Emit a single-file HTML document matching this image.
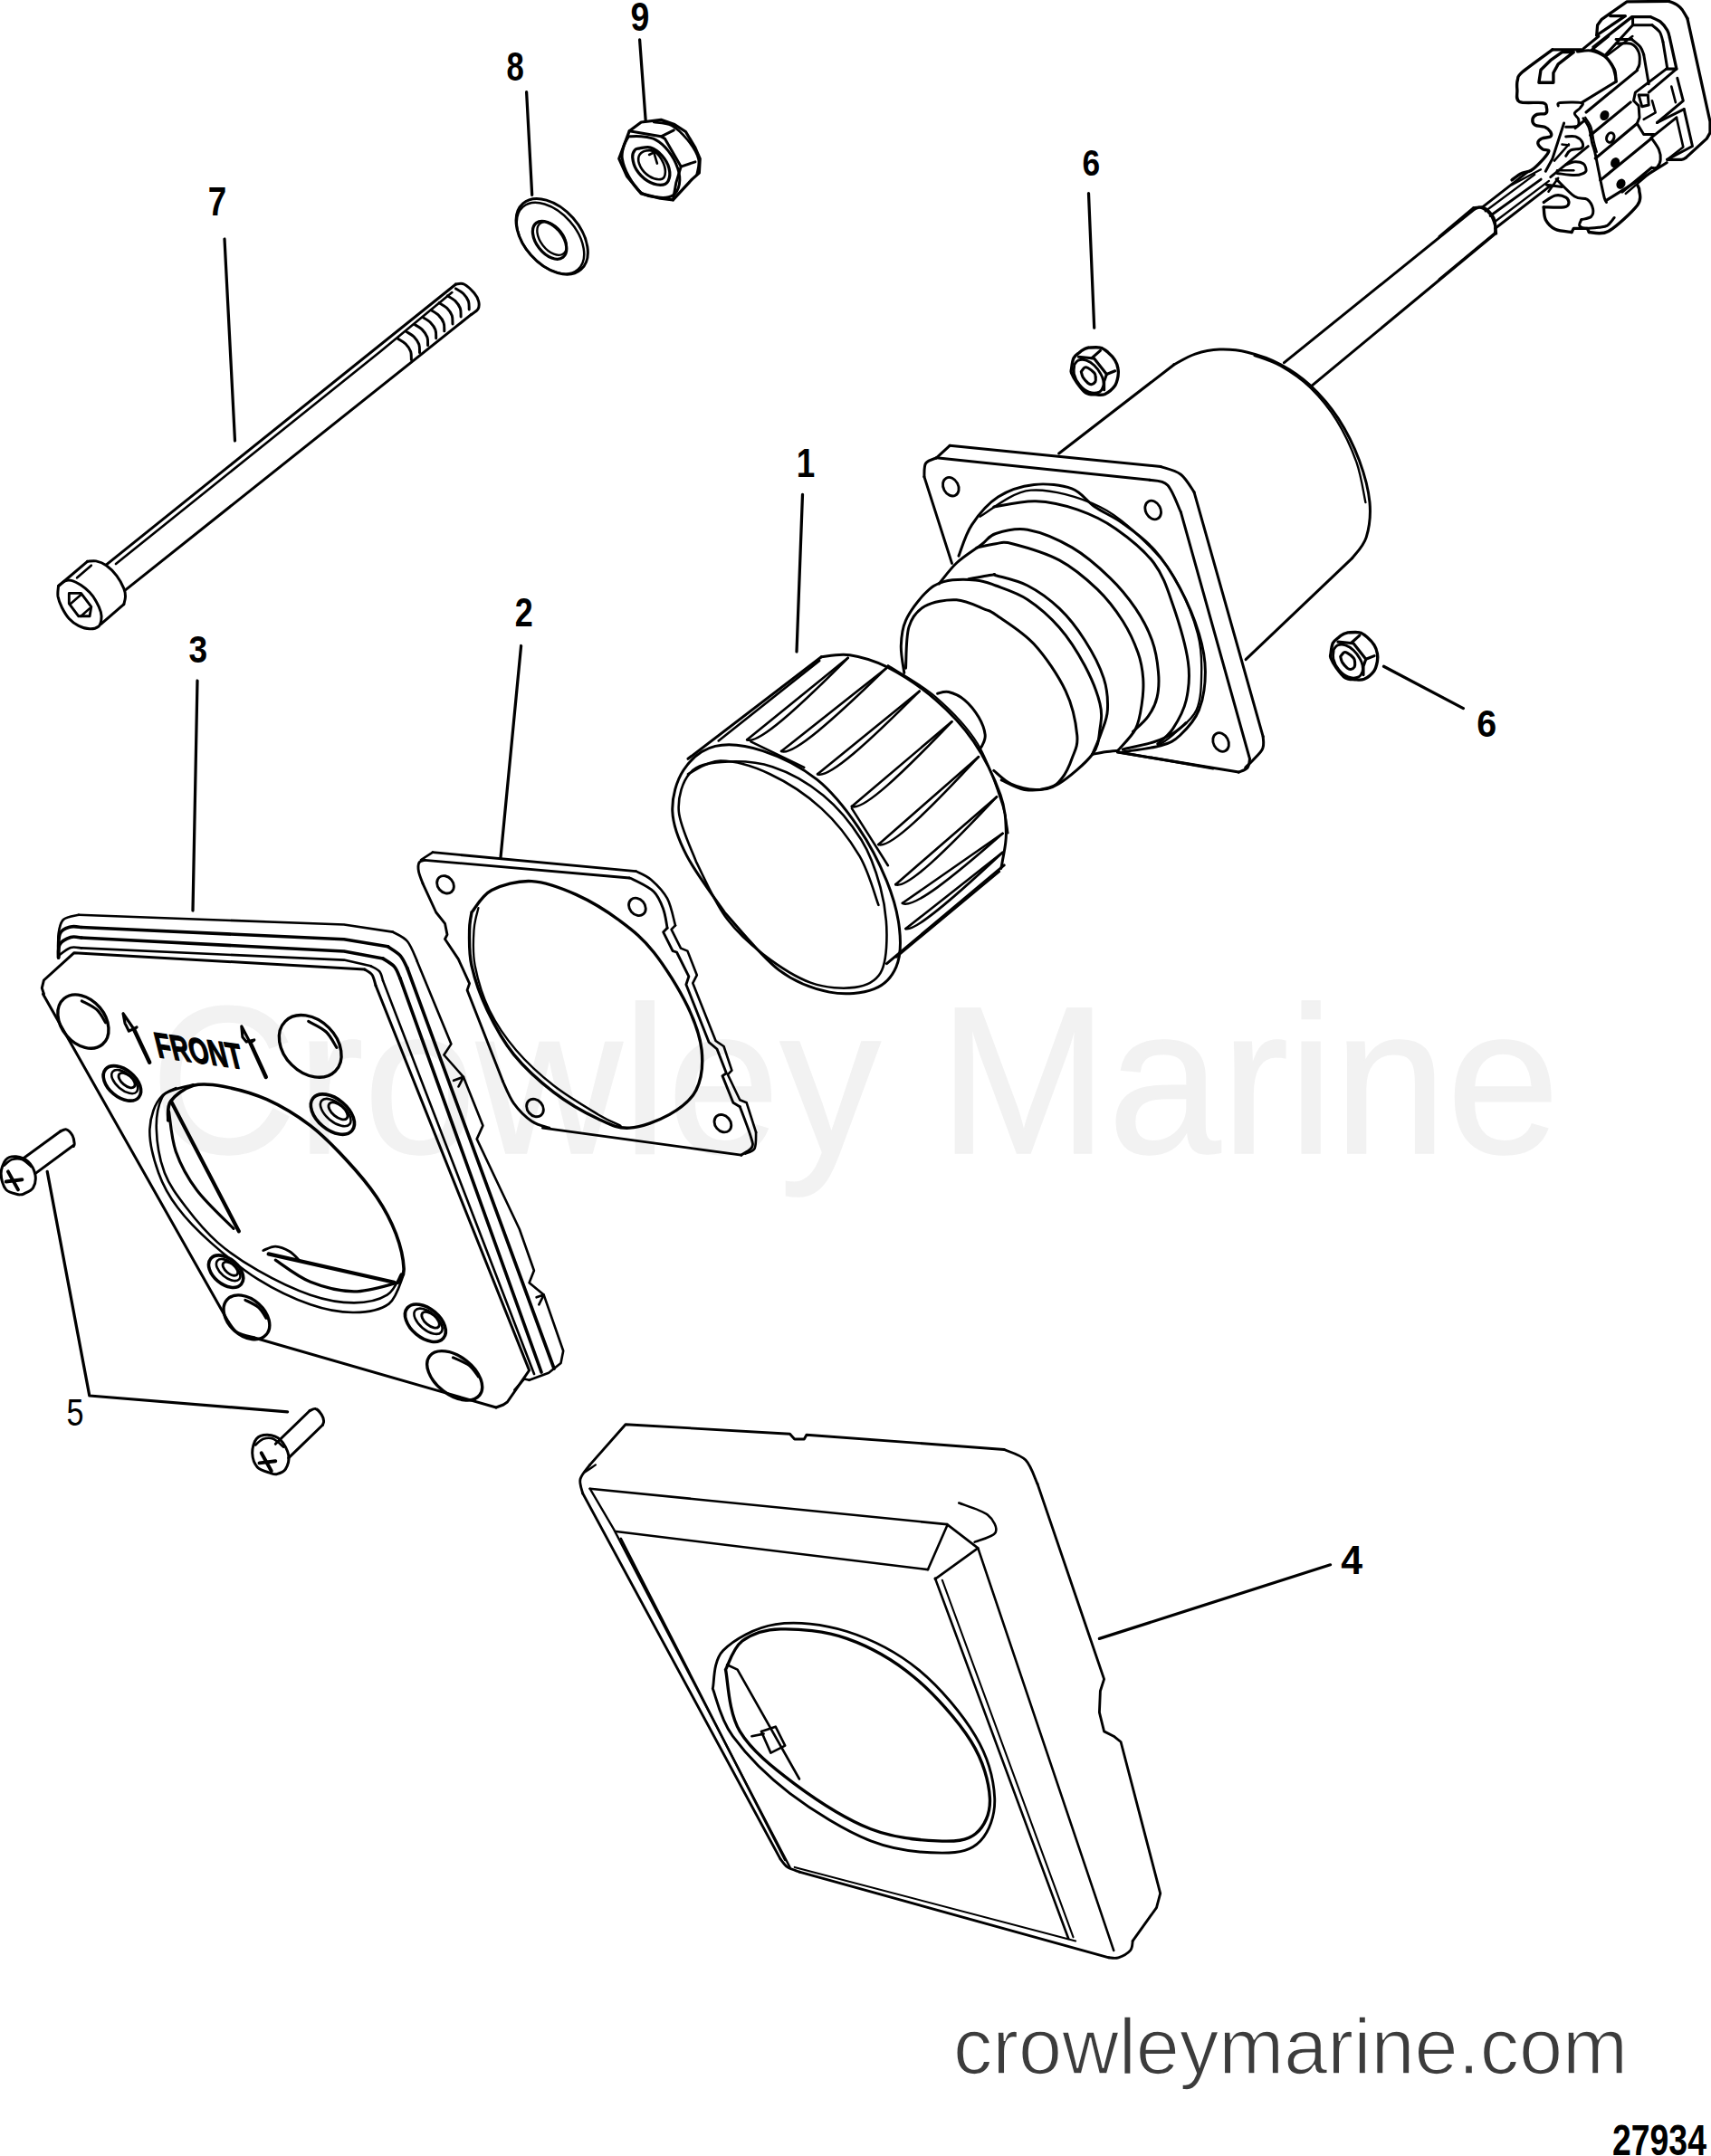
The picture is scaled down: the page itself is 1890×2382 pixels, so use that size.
<!DOCTYPE html>
<html><head><meta charset="utf-8"><style>
html,body{margin:0;padding:0;background:#fff;}
svg{display:block;}
text{font-family:"Liberation Sans",sans-serif;}
</style></head><body>
<svg width="1890" height="2382" viewBox="0 0 1890 2382">
<rect width="1890" height="2382" fill="#fff"/>
<text transform="translate(166.1 1273.6) scale(0.963 1)" font-size="232" fill="#f2f2f2" stroke="#f2f2f2" stroke-width="1.5" font-family="Liberation Sans">Crowley</text><text id="wm2" transform="translate(1037 1273.6) scale(0.967 1)" font-size="232" fill="#f2f2f2" stroke="#f2f2f2" stroke-width="1.5" font-family="Liberation Sans">Marine</text>
<g stroke="#000" fill="none" stroke-linejoin="round" stroke-linecap="round">
<text x="0" y="0" transform="translate(707.0 34.2) scale(0.851 1)" text-anchor="middle" font-size="44.1" font-weight="bold" fill="#000" stroke="none">9</text>
<text x="0" y="0" transform="translate(569.2 88.5) scale(0.789 1)" text-anchor="middle" font-size="44.0" font-weight="bold" fill="#000" stroke="none">8</text>
<text x="0" y="0" transform="translate(240.0 238.0) scale(0.822 1)" text-anchor="middle" font-size="44.7" font-weight="bold" fill="#000" stroke="none">7</text>
<text x="0" y="0" transform="translate(1205.3 194.4) scale(0.872 1)" text-anchor="middle" font-size="40.5" font-weight="bold" fill="#000" stroke="none">6</text>
<text x="0" y="0" transform="translate(890.0 527.0) scale(0.820 1)" text-anchor="middle" font-size="45.0" font-weight="bold" fill="#000" stroke="none">1</text>
<text x="0" y="0" transform="translate(578.7 692.2) scale(0.806 1)" text-anchor="middle" font-size="44.6" font-weight="bold" fill="#000" stroke="none">2</text>
<text x="0" y="0" transform="translate(218.8 732.0) scale(0.892 1)" text-anchor="middle" font-size="41.6" font-weight="bold" fill="#000" stroke="none">3</text>
<text x="0" y="0" transform="translate(1642.2 813.5) scale(0.913 1)" text-anchor="middle" font-size="43.2" font-weight="bold" fill="#000" stroke="none">6</text>
<text x="0" y="0" transform="translate(83.0 1575.4) scale(0.787 1)" text-anchor="middle" font-size="43.4" font-weight="normal" fill="#000" stroke="none">5</text>
<text x="0" y="0" transform="translate(1493.2 1739.4) scale(0.971 1)" text-anchor="middle" font-size="44.1" font-weight="bold" fill="#000" stroke="none">4</text>
<line x1="706.6" y1="43.8" x2="713.2" y2="133.3" stroke-width="3.25"/>
<line x1="581.6" y1="101.7" x2="587.7" y2="215.3" stroke-width="3.25"/>
<line x1="248.0" y1="264.0" x2="259.5" y2="487.0" stroke-width="3.25"/>
<line x1="1202.5" y1="213.6" x2="1208.7" y2="362.2" stroke-width="3.25"/>
<line x1="886.5" y1="546.3" x2="880.0" y2="720.0" stroke-width="3.25"/>
<line x1="575.6" y1="713.5" x2="553.0" y2="947.3" stroke-width="3.25"/>
<line x1="218.0" y1="752.0" x2="213.0" y2="1006.0" stroke-width="3.25"/>
<line x1="1528.5" y1="736.3" x2="1616.4" y2="782.6" stroke-width="3.25"/>
<line x1="1214.4" y1="1810.4" x2="1469.5" y2="1728.8" stroke-width="3.25"/>
<path d="M52.2,1294.4 L98.8,1542.0 L317.6,1559.8" stroke-width="3.25" fill="none" />
<path d="M64.5,647.5 C65.7,646.6 69.5,642.8 71.9,641.8 C74.3,640.8 76.0,640.6 78.9,641.4 C81.9,642.2 86.1,644.4 89.5,646.6 C92.8,648.8 96.3,651.6 99.1,654.5 C101.9,657.4 104.1,660.5 106.1,664.2 C108.2,667.8 110.4,672.9 111.4,676.4 C112.3,679.9 112.2,682.6 111.8,685.2 C111.4,687.8 110.9,690.6 108.7,692.2 C106.6,693.8 102.7,695.0 99.1,694.8 C95.4,694.7 90.6,693.2 86.8,691.3 C83.0,689.4 79.4,686.8 76.3,683.4 C73.2,680.1 70.5,675.3 68.4,671.2 C66.4,667.1 64.7,662.8 64.0,658.9 C63.4,655.0 64.4,649.4 64.5,647.5" stroke-width="2.99" fill="none" />
<path d="M96.5,620.3 C98.1,620.3 102.6,619.2 106.1,619.9 C109.6,620.6 113.7,622.0 117.5,624.7 C121.3,627.4 125.7,631.9 128.9,636.1 C132.1,640.3 135.2,646.3 136.8,650.1 C138.4,653.9 138.5,656.0 138.5,658.9 C138.5,661.8 137.1,666.2 136.8,667.7" stroke-width="2.99" fill="none" />
<path d="M64.5,647.5 L96.5,620.3" stroke-width="2.99" fill="none" />
<path d="M136.8,667.7 L111.4,689.6" stroke-width="2.99" fill="none" />
<path d="M85.1,638.3 L100.8,624.7" stroke-width="2.60" fill="none" />
<path d="M76.3,655.4 L89.5,655.4 L100.8,670.3 L99.1,680.8 L86.8,680.8 L76.3,666.8Z" stroke-width="2.86" fill="none" />
<path d="M77.2,667.7 L89.5,657.1" stroke-width="2.60" fill="none" />
<path d="M89.5,680.8 L99.1,672.1" stroke-width="2.60" fill="none" />
<path d="M117.5,623.8 L503.5,314.0" stroke-width="2.99" fill="none" />
<path d="M128.0,623.0 L420.0,388.4 L499.3,323.1" stroke-width="2.60" fill="none" />
<path d="M138.5,651.9 L520.3,347.7" stroke-width="2.99" fill="none" />
<path d="M503.5,314.0 C505.0,314.0 509.2,312.4 512.6,314.0 C516.0,315.7 521.1,320.7 523.8,323.8 C526.5,327.0 528.0,330.0 528.7,333.0 C529.4,335.9 529.4,338.9 528.0,341.4 C526.6,343.8 521.6,346.6 520.3,347.7" stroke-width="2.99" fill="none" />
<path d="M439.6,374.3 C441.0,375.3 445.7,377.6 448.1,380.0 C450.4,382.3 452.6,385.4 453.7,388.4 C454.7,391.3 454.2,396.0 454.4,397.5" stroke-width="2.99" fill="none" />
<path d="M448.8,366.4 C450.2,367.4 454.8,369.7 457.2,372.0 C459.5,374.4 461.7,377.5 462.8,380.4 C463.8,383.4 463.4,388.0 463.5,389.6" stroke-width="2.99" fill="none" />
<path d="M457.9,358.5 C459.3,359.4 464.0,361.8 466.3,364.1 C468.6,366.4 470.8,369.6 471.9,372.5 C473.0,375.4 472.5,380.1 472.6,381.6" stroke-width="2.99" fill="none" />
<path d="M467.0,350.6 C468.4,351.5 473.1,353.8 475.4,356.2 C477.7,358.5 480.0,361.7 481.0,364.6 C482.1,367.5 481.6,372.2 481.7,373.7" stroke-width="2.99" fill="none" />
<path d="M476.1,342.6 C477.5,343.6 482.2,345.9 484.5,348.3 C486.9,350.6 489.1,353.7 490.1,356.7 C491.2,359.6 490.7,364.3 490.8,365.8" stroke-width="2.99" fill="none" />
<path d="M485.2,334.7 C486.6,335.7 491.3,338.0 493.6,340.3 C496.0,342.7 498.2,345.8 499.3,348.7 C500.3,351.7 499.8,356.3 500.0,357.9" stroke-width="2.99" fill="none" />
<path d="M494.3,326.8 C495.7,327.7 500.4,330.1 502.8,332.4 C505.1,334.7 507.3,337.9 508.4,340.8 C509.4,343.7 509.0,348.4 509.1,349.9" stroke-width="2.99" fill="none" />
<path d="M503.5,318.9 C504.9,319.8 509.5,322.1 511.9,324.5 C514.2,326.8 516.4,330.0 517.5,332.9 C518.5,335.8 518.1,340.5 518.2,342.0" stroke-width="2.99" fill="none" />
<ellipse cx="609.7" cy="261.3" rx="48.5" ry="31.0" transform="rotate(48.6 609.7 261.3)" stroke-width="2.99" fill="none"/>
<ellipse cx="608.0" cy="263.2" rx="46.0" ry="28.5" transform="rotate(48.6 608.0 263.2)" stroke-width="2.47" fill="none"/>
<ellipse cx="607.1" cy="265.3" rx="24.0" ry="14.5" transform="rotate(52.0 607.1 265.3)" stroke-width="3.25" fill="none"/>
<ellipse cx="609.6" cy="263.5" rx="21.0" ry="12.5" transform="rotate(52.0 609.6 263.5)" stroke-width="2.34" fill="none"/>
<path d="M695.2,144.7 L708.3,135.0 L730.2,132.4 L745.1,137.6 L757.4,145.5 L767.9,163.1 L773.2,175.3 L772.3,191.1 L764.4,198.1 L743.4,220.9 L729.4,219.2 L708.3,213.9 L692.5,194.6 L683.8,175.3 L689.0,161.3Z" stroke-width="3.25" fill="none" />
<path d="M694.3,150.8 C696.6,150.8 703.4,150.2 708.3,150.8 C713.3,151.4 719.1,151.7 724.1,154.3 C729.1,156.9 734.0,161.3 738.1,166.6 C742.2,171.8 746.6,179.7 748.6,185.9 C750.7,192.0 751.3,198.4 750.4,203.4 C749.5,208.4 746.9,213.2 743.4,215.7 C739.9,218.1 735.2,218.7 729.4,218.3 C723.5,217.9 714.2,217.0 708.3,213.0 C702.5,209.1 697.8,200.9 694.3,194.6 C690.8,188.3 688.2,180.9 687.3,175.3 C686.4,169.8 687.9,165.4 689.0,161.3 C690.2,157.2 693.4,152.5 694.3,150.8" stroke-width="2.99" fill="none" />
<path d="M695.2,144.7 L730.2,150.8 L744.3,143.8" stroke-width="2.99" fill="none" />
<path d="M730.2,150.8 L734.6,153.4 L752.2,184.1 L767.9,178.8" stroke-width="2.99" fill="none" />
<path d="M752.2,184.1 L746.9,201.6 L743.4,220.9" stroke-width="2.99" fill="none" />
<path d="M722.3,135.0 C725.6,135.6 735.5,135.3 741.6,138.5 C747.8,141.7 754.2,148.2 759.2,154.3 C764.1,160.4 769.7,168.9 771.4,175.3 C773.2,181.8 770.0,189.9 769.7,192.9" stroke-width="2.60" fill="none" />
<path d="M706.6,163.9 C709.5,163.5 714.8,161.7 718.8,163.1 C722.9,164.4 727.8,168.0 731.1,171.8 C734.5,175.6 737.8,181.2 739.0,185.9 C740.2,190.5 739.7,196.8 738.1,199.9 C736.5,203.0 733.2,204.3 729.4,204.3 C725.6,204.3 719.7,202.7 715.3,199.9 C711.0,197.1 705.8,192.0 703.1,187.6 C700.3,183.2 699.0,177.2 698.7,173.6 C698.4,169.9 700.0,167.3 701.3,165.7 C702.6,164.1 703.6,164.4 706.6,163.9Z" stroke-width="3.25" fill="none" />
<path d="M713.6,166.6 C716.7,165.8 720.9,166.0 724.1,168.3 C727.3,170.7 731.1,176.5 732.9,180.6 C734.6,184.7 735.2,189.9 734.6,192.9 C734.0,195.8 732.3,197.8 729.4,198.1 C726.4,198.4 720.7,197.0 717.1,194.6 C713.4,192.3 709.3,187.8 707.4,184.1 C705.5,180.5 704.7,175.6 705.7,172.7 C706.7,169.8 710.5,167.3 713.6,166.6Z" stroke-width="2.60" fill="none" />
<path d="M717.1,171.0 L722.3,168.3 L725.9,180.6" stroke-width="2.60" fill="none" />
<path d="M1169.7,501.0 L1297.0,402.7" stroke-width="2.99" fill="none" />
<path d="M1297.0,402.7 C1300.9,400.7 1311.8,393.9 1320.2,391.1 C1328.5,388.3 1337.5,386.4 1347.2,386.1 C1356.8,385.8 1366.8,386.4 1378.0,389.2 C1389.3,391.9 1403.1,396.6 1414.7,402.7 C1426.2,408.8 1436.8,415.8 1447.5,425.8 C1458.1,435.8 1469.3,448.6 1478.3,462.4 C1487.3,476.3 1495.7,493.3 1501.5,508.7 C1507.2,524.2 1511.7,540.9 1513.0,555.0 C1514.3,569.2 1512.4,583.3 1509.2,593.6 C1506.0,603.9 1496.3,612.9 1493.7,616.7" stroke-width="2.99" fill="none" />
<path d="M1385.7,393.0 C1390.6,394.9 1404.4,398.7 1414.7,404.6 C1425.0,410.5 1437.2,418.5 1447.5,428.5 C1457.7,438.5 1467.9,450.7 1476.4,464.4 C1484.9,478.1 1493.0,495.6 1498.4,510.7 C1503.7,525.8 1506.7,547.6 1508.4,555.0" stroke-width="2.34" fill="none" />
<path d="M1493.7,616.7 L1376.1,728.6" stroke-width="2.99" fill="none" />
<path d="M1418.5,400.7 L1628.8,231.0" stroke-width="2.99" fill="none" />
<path d="M1449.4,425.8 L1651.9,258.0" stroke-width="2.99" fill="none" />
<path d="M1626.8,231.8 C1628.8,231.3 1634.5,227.6 1638.4,229.1 C1642.3,230.6 1647.6,235.8 1650.0,240.6 C1652.3,245.5 1652.2,255.1 1652.7,258.0" stroke-width="2.99" fill="none" />
<path d="M1202.3,384.1 C1204.5,384.1 1211.8,383.2 1215.4,384.1 C1219.0,384.9 1221.1,386.9 1223.8,389.2 C1226.5,391.5 1229.9,395.0 1231.7,398.1 C1233.6,401.1 1234.5,404.5 1235.0,407.4 C1235.6,410.4 1235.6,412.6 1235.0,415.8 C1234.4,419.0 1233.7,423.3 1231.3,426.6 C1228.9,429.9 1224.0,433.9 1220.5,435.5 C1217.0,437.0 1213.7,436.2 1210.2,435.9 C1206.7,435.7 1202.9,436.3 1199.5,434.1 C1196.1,431.9 1192.3,426.5 1189.7,422.9 C1187.0,419.2 1184.6,414.7 1183.6,412.1 C1182.6,409.5 1183.2,410.2 1183.6,407.4 C1184.0,404.7 1184.5,398.7 1185.9,395.7 C1187.3,392.8 1190.0,391.4 1192.0,389.7 C1194.0,387.9 1196.4,386.4 1198.1,385.5 C1199.8,384.5 1201.6,384.3 1202.3,384.1" stroke-width="3.38" fill="none" />
<path d="M1191.5,394.3 L1206.0,395.7 L1215.4,387.3" stroke-width="3.12" fill="none" />
<path d="M1206.0,395.7 L1208.8,396.2 L1222.4,413.5 L1231.7,409.8" stroke-width="3.12" fill="none" />
<path d="M1222.4,413.5 L1219.6,421.5 L1219.6,430.8" stroke-width="3.12" fill="none" />
<path d="M1186.9,402.8 C1187.6,402.0 1188.9,398.9 1191.1,398.1 C1193.2,397.3 1197.0,397.1 1199.9,398.1 C1202.9,399.0 1206.2,401.2 1208.8,403.7 C1211.5,406.2 1214.2,410.2 1215.8,413.0 C1217.5,415.8 1218.2,418.3 1218.7,420.5 C1219.1,422.8 1219.4,424.5 1218.7,426.6 C1217.9,428.7 1217.1,432.1 1214.4,433.1 C1211.8,434.2 1206.4,434.5 1202.8,433.1 C1199.1,431.8 1195.2,428.5 1192.5,425.2 C1189.7,421.8 1187.3,416.8 1186.4,413.0 C1185.5,409.3 1186.8,404.5 1186.9,402.8" stroke-width="2.86" fill="none" />
<path d="M1194.3,410.7 C1195.0,409.9 1196.8,406.7 1198.1,406.0 C1199.3,405.3 1200.0,405.5 1201.8,406.5 C1203.6,407.5 1207.4,410.4 1208.8,412.1 C1210.2,413.8 1210.1,415.1 1210.2,416.8 C1210.4,418.4 1210.5,420.6 1209.8,421.9 C1209.0,423.2 1206.9,424.5 1205.6,424.7 C1204.2,425.0 1203.4,424.6 1201.8,423.3 C1200.3,422.0 1197.5,418.9 1196.2,416.8 C1195.0,414.7 1194.7,411.7 1194.3,410.7" stroke-width="3.12" fill="none" />
<path d="M1488.7,698.9 C1490.9,698.9 1498.2,698.0 1501.8,698.9 C1505.4,699.7 1507.5,701.7 1510.2,704.0 C1512.9,706.3 1516.3,709.8 1518.1,712.9 C1520.0,715.9 1520.9,719.3 1521.4,722.2 C1522.0,725.2 1522.0,727.4 1521.4,730.6 C1520.8,733.8 1520.1,738.1 1517.7,741.4 C1515.3,744.7 1510.4,748.7 1506.9,750.3 C1503.4,751.8 1500.1,751.0 1496.6,750.7 C1493.1,750.5 1489.3,751.1 1485.9,748.9 C1482.5,746.7 1478.7,741.3 1476.1,737.7 C1473.4,734.0 1471.0,729.5 1470.0,726.9 C1469.0,724.3 1469.6,725.0 1470.0,722.2 C1470.4,719.5 1470.9,713.5 1472.3,710.5 C1473.7,707.6 1476.4,706.2 1478.4,704.5 C1480.4,702.7 1482.8,701.2 1484.5,700.3 C1486.2,699.3 1488.0,699.1 1488.7,698.9" stroke-width="3.38" fill="none" />
<path d="M1477.9,709.1 L1492.4,710.5 L1501.8,702.1" stroke-width="3.12" fill="none" />
<path d="M1492.4,710.5 L1495.2,711.0 L1508.8,728.3 L1518.1,724.6" stroke-width="3.12" fill="none" />
<path d="M1508.8,728.3 L1506.0,736.3 L1506.0,745.6" stroke-width="3.12" fill="none" />
<path d="M1473.3,717.6 C1474.0,716.8 1475.3,713.7 1477.5,712.9 C1479.6,712.1 1483.4,711.9 1486.3,712.9 C1489.3,713.8 1492.6,716.0 1495.2,718.5 C1497.9,721.0 1500.6,725.0 1502.2,727.8 C1503.9,730.6 1504.6,733.1 1505.1,735.3 C1505.5,737.6 1505.8,739.3 1505.1,741.4 C1504.3,743.5 1503.5,746.9 1500.8,747.9 C1498.2,749.0 1492.8,749.3 1489.2,747.9 C1485.5,746.6 1481.6,743.3 1478.9,740.0 C1476.1,736.6 1473.7,731.6 1472.8,727.8 C1471.9,724.1 1473.2,719.3 1473.3,717.6" stroke-width="2.86" fill="none" />
<path d="M1480.7,725.5 C1481.4,724.7 1483.2,721.5 1484.5,720.8 C1485.7,720.1 1486.4,720.3 1488.2,721.3 C1490.0,722.3 1493.8,725.2 1495.2,726.9 C1496.6,728.6 1496.5,729.9 1496.6,731.6 C1496.8,733.2 1496.9,735.4 1496.2,736.7 C1495.4,738.0 1493.3,739.3 1492.0,739.5 C1490.6,739.8 1489.8,739.4 1488.2,738.1 C1486.7,736.8 1483.9,733.7 1482.6,731.6 C1481.4,729.5 1481.1,726.5 1480.7,725.5" stroke-width="3.12" fill="none" />
<path d="M1051.5,622.4 L1020.9,526.6" stroke-width="2.99" fill="none" />
<path d="M1020.9,526.6 C1021.2,524.2 1020.3,515.4 1022.6,511.9 C1024.8,508.4 1032.4,506.8 1034.4,505.8" stroke-width="2.99" fill="none" />
<path d="M1034.4,505.8 L1270.0,530.3" stroke-width="2.99" fill="none" />
<path d="M1270.0,530.3 C1273.3,531.3 1283.9,530.0 1289.7,536.0 C1295.4,541.9 1301.9,560.9 1304.4,565.9" stroke-width="2.99" fill="none" />
<path d="M1304.4,565.9 L1380.5,838.4" stroke-width="2.99" fill="none" />
<path d="M1380.5,838.4 C1380.1,840.0 1380.1,845.8 1378.0,848.2 C1376.0,850.7 1369.8,852.3 1368.2,853.1" stroke-width="2.99" fill="none" />
<path d="M1368.2,853.1 L1234.4,831.0" stroke-width="2.99" fill="none" />
<path d="M1034.4,505.8 L1049.1,492.3" stroke-width="2.99" fill="none" />
<path d="M1049.1,492.3 L1282.3,515.6" stroke-width="2.99" fill="none" />
<path d="M1282.3,515.6 C1286.0,517.0 1298.2,519.5 1304.4,524.2 C1310.5,528.9 1316.7,540.5 1319.1,543.8" stroke-width="2.99" fill="none" />
<path d="M1319.1,543.8 L1395.2,813.8" stroke-width="2.99" fill="none" />
<path d="M1395.2,813.8 C1395.0,816.3 1397.3,822.8 1394.0,828.6 C1390.7,834.3 1378.6,844.9 1375.6,848.2" stroke-width="2.99" fill="none" />
<ellipse cx="1050.3" cy="537.7" rx="8.2" ry="10.8" transform="rotate(-28.0 1050.3 537.7)" stroke-width="2.86" fill="none"/>
<ellipse cx="1273.7" cy="563.5" rx="8.2" ry="10.8" transform="rotate(-28.0 1273.7 563.5)" stroke-width="2.86" fill="none"/>
<ellipse cx="1348.6" cy="820.0" rx="8.2" ry="10.8" transform="rotate(-28.0 1348.6 820.0)" stroke-width="2.86" fill="none"/>
<path d="M1059.0,614.2 C1061.4,608.5 1066.2,590.7 1073.5,579.8 C1080.7,568.9 1091.0,556.4 1102.5,549.0 C1113.9,541.6 1128.7,536.9 1142.3,535.4 C1155.9,533.9 1172.8,535.8 1184.0,539.9 C1195.2,544.0 1200.0,553.6 1209.4,560.0 C1218.8,566.4 1229.3,570.3 1240.3,578.2 C1251.3,586.2 1264.8,595.8 1275.3,607.7 C1285.9,619.6 1295.2,634.3 1303.4,649.8 C1311.6,665.2 1319.8,684.8 1324.4,700.3 C1329.1,715.7 1331.4,728.3 1331.4,742.3 C1331.4,756.4 1329.1,772.7 1324.4,784.4 C1319.8,796.1 1310.4,805.9 1303.4,812.5 C1296.4,819.0 1292.9,820.7 1282.3,823.7 C1271.8,826.7 1247.3,829.5 1240.3,830.7" stroke-width="2.99" fill="none" />
<path d="M1082.5,570.7 C1091.9,565.9 1116.6,543.5 1138.7,541.7 C1160.8,540.0 1192.7,549.2 1215.0,560.0 C1237.3,570.8 1258.0,591.8 1272.5,606.3 C1287.0,620.8 1293.6,631.3 1302.0,647.0 C1310.4,662.6 1318.8,684.4 1323.0,700.3 C1327.2,716.2 1327.5,728.3 1327.2,742.3 C1327.0,756.4 1326.8,773.0 1321.6,784.4 C1316.5,795.9 1303.4,804.5 1296.4,811.1 C1289.4,817.6 1282.3,821.6 1279.5,823.7" stroke-width="2.34" fill="none" />
<path d="M1097.8,560.0 C1105.5,558.9 1128.7,553.1 1144.1,553.7 C1159.5,554.2 1175.7,558.0 1190.4,563.1 C1205.1,568.2 1218.5,574.3 1232.5,584.2 C1246.5,594.0 1264.0,608.0 1274.6,622.0 C1285.1,636.1 1289.3,650.1 1295.6,668.3 C1301.9,686.6 1310.0,713.9 1312.4,731.4 C1314.9,749.0 1313.1,761.3 1310.3,773.5 C1307.5,785.8 1300.9,797.0 1295.6,805.1 C1290.3,813.2 1281.6,819.1 1278.8,821.9" stroke-width="2.99" fill="none" />
<path d="M1037.2,645.0 C1040.6,641.1 1049.3,628.7 1057.2,621.5 C1065.0,614.2 1077.2,606.9 1084.4,601.5 C1091.5,596.2 1091.5,592.2 1100.0,589.5 C1108.5,586.7 1121.0,582.7 1135.1,585.2 C1149.1,587.8 1169.0,596.0 1184.2,604.9 C1199.4,613.8 1214.6,627.3 1226.2,638.6 C1237.9,649.8 1246.6,660.8 1254.3,672.2 C1262.0,683.7 1268.3,695.6 1272.5,707.3 C1276.7,719.0 1278.6,731.8 1279.5,742.3 C1280.5,752.9 1280.0,762.2 1278.1,770.4 C1276.3,778.6 1272.8,785.1 1268.3,791.4 C1263.9,797.8 1254.3,805.5 1251.5,808.3" stroke-width="2.99" fill="none" />
<path d="M1078.9,605.2 C1082.4,604.4 1093.4,601.4 1100.0,600.7 C1106.6,599.9 1106.5,597.6 1118.2,600.7 C1129.9,603.7 1154.5,610.5 1170.1,618.9 C1185.8,627.3 1200.5,640.0 1212.2,651.2 C1223.9,662.4 1232.8,674.6 1240.3,686.2 C1247.7,697.9 1253.4,710.8 1257.1,721.3 C1260.8,731.8 1262.0,740.0 1262.7,749.4 C1263.4,758.7 1262.7,768.1 1261.3,777.4 C1259.9,786.8 1258.7,796.8 1254.3,805.5 C1249.9,814.1 1237.9,825.3 1234.7,829.3" stroke-width="2.99" fill="none" />
<path d="M1069.9,639.6 C1074.4,638.8 1092.0,635.7 1097.0,635.0 C1102.1,634.4 1093.7,633.8 1100.0,635.7 C1106.3,637.7 1123.4,640.9 1135.1,647.0 C1146.8,653.0 1159.6,662.2 1170.1,672.2 C1180.7,682.3 1190.0,694.4 1198.2,707.3 C1206.4,720.1 1215.0,736.5 1219.2,749.4 C1223.4,762.2 1223.9,774.4 1223.4,784.4 C1223.0,794.5 1219.2,801.5 1216.4,809.7 C1213.6,817.9 1208.2,829.5 1206.6,833.5" stroke-width="2.99" fill="none" />
<path d="M998.8,743.4 C998.2,738.5 995.0,723.3 995.3,713.6 C995.6,704.0 996.1,695.2 1000.5,685.6 C1004.9,675.9 1014.5,662.9 1021.6,655.8 C1028.6,648.6 1033.2,645.1 1042.6,642.6 C1052.0,640.1 1068.1,640.2 1077.7,640.9 C1087.2,641.6 1090.4,643.4 1100.0,647.0 C1109.6,650.6 1123.4,654.7 1135.1,662.4 C1146.8,670.1 1159.6,681.1 1170.1,693.3 C1180.7,705.4 1190.7,721.3 1198.2,735.3 C1205.7,749.4 1212.2,765.7 1215.0,777.4 C1217.8,789.1 1216.4,796.1 1215.0,805.5 C1213.6,814.8 1214.2,823.4 1206.6,833.5 C1199.0,843.6 1179.8,859.6 1169.4,866.1 C1158.9,872.6 1152.9,872.4 1144.1,872.4 C1135.3,872.4 1124.5,869.6 1116.8,866.1 C1109.0,862.6 1101.0,853.8 1097.8,851.4" stroke-width="2.99" fill="none" />
<path d="M1000.5,738.2 C1001.1,730.6 1000.5,704.0 1004.0,692.6 C1007.5,681.2 1012.8,674.8 1021.6,669.8 C1030.3,664.8 1045.5,662.2 1056.6,662.8 C1067.7,663.4 1081.0,670.6 1088.2,673.3 C1095.4,676.1 1091.0,672.9 1100.0,679.2 C1109.0,685.6 1129.2,697.5 1142.1,711.5 C1154.9,725.5 1169.2,746.6 1177.1,763.4 C1185.1,780.2 1188.6,800.1 1189.8,812.5 C1190.9,824.9 1187.0,829.8 1184.2,837.7 C1181.4,845.7 1177.2,854.6 1172.9,860.0 C1168.7,865.5 1165.8,868.2 1158.8,870.3 C1151.9,872.4 1140.3,873.8 1131.5,872.4 C1122.7,871.0 1110.5,863.6 1106.2,861.9" stroke-width="2.99" fill="none" />
<path d="M1206.6,833.5 C1208.9,833.1 1216.0,831.4 1220.6,830.7 C1225.3,830.0 1232.3,829.5 1234.7,829.3" stroke-width="2.99" fill="none" />
<path d="M1234.7,830.7 L1340.0,849.0" stroke-width="2.99" fill="none" />
<path d="M1240.3,827.9 C1246.1,826.5 1266.0,822.5 1275.3,819.5 C1284.7,816.5 1290.5,813.2 1296.4,809.7 C1302.2,806.2 1308.1,800.3 1310.4,798.5" stroke-width="2.99" fill="none" />
<path d="M1035.6,766.2 C1037.6,765.9 1042.9,763.3 1047.9,764.5 C1052.8,765.7 1059.8,768.6 1065.4,773.3 C1070.9,777.9 1077.4,786.1 1081.2,792.5 C1085.0,799.0 1087.6,806.6 1088.2,811.8 C1088.8,817.1 1085.9,821.5 1084.7,824.1 C1083.5,826.7 1081.8,827.0 1081.2,827.6" stroke-width="2.99" fill="none" />
<path d="M800.7,1008.5 C793.6,998.0 768.2,964.1 758.6,945.4 C748.9,926.7 743.4,912.0 742.8,896.3 C742.2,880.5 747.2,862.7 755.1,850.7 C763.0,838.7 775.5,827.9 790.1,824.4 C804.7,820.9 824.0,823.5 842.7,829.6 C861.4,835.8 884.8,847.2 902.3,861.2 C919.9,875.2 935.1,895.1 947.9,913.8 C960.8,932.5 971.9,954.7 979.5,973.4 C987.1,992.1 991.8,1010.2 993.5,1026.0 C995.3,1041.8 994.7,1057.0 990.0,1068.1 C985.3,1079.2 977.7,1088.0 965.5,1092.6 C953.2,1097.3 933.9,1099.6 916.4,1096.1 C898.8,1092.6 879.6,1086.2 860.3,1071.6 C841.0,1057.0 810.6,1019.0 800.7,1008.5" stroke-width="2.99" fill="none" />
<path d="M769.1,952.4 C765.9,943.0 751.0,912.6 749.8,896.3 C748.6,879.9 754.2,863.2 762.1,854.2 C770.0,845.1 782.0,843.1 797.1,841.9 C812.3,840.7 834.6,841.0 853.3,847.2 C872.0,853.3 893.0,865.3 909.4,878.7 C925.7,892.2 940.9,910.9 951.4,927.8 C962.0,944.8 967.8,962.9 972.5,980.4 C977.2,998.0 979.5,1017.2 979.5,1033.0 C979.5,1048.8 978.3,1065.5 972.5,1075.1 C966.6,1084.7 957.3,1089.1 944.4,1090.9 C931.6,1092.6 912.3,1091.8 895.3,1085.6 C878.4,1079.5 858.5,1066.3 842.7,1054.1 C827.0,1041.8 812.9,1028.9 800.7,1012.0 C788.4,995.0 774.4,962.3 769.1,952.4" stroke-width="2.60" fill="none" />
<path d="M760.0,855.2 C766.0,852.7 780.7,840.5 795.8,840.5 C810.8,840.5 831.9,846.4 850.5,855.2 C869.1,863.9 890.8,878.0 907.3,893.1 C923.8,908.1 938.8,927.8 949.4,945.7 C959.9,963.5 966.9,990.9 970.4,999.9" stroke-width="2.60" fill="none" />
<path d="M829.4,819.4 C839.3,824.1 878.5,843.1 888.3,847.8" stroke-width="2.60" fill="none" />
<path d="M940.9,893.1 C947.6,903.6 974.3,945.7 980.9,956.2" stroke-width="2.60" fill="none" />
<path d="M760.0,838.3 L907.3,725.8" stroke-width="2.99" fill="none" />
<path d="M793.7,818.4 L905.2,730.0" stroke-width="2.60" fill="none" />
<path d="M907.3,725.8 C912.5,725.4 926.6,721.7 938.8,723.7 C951.1,725.6 965.1,729.1 980.9,737.4 C996.7,745.6 1017.7,759.4 1033.5,773.1 C1049.3,786.8 1063.7,801.9 1075.6,819.4 C1087.5,836.9 1099.1,861.5 1105.1,878.3 C1111.0,895.2 1111.0,908.1 1111.4,920.4 C1111.7,932.7 1108.1,945.5 1107.2,952.0 C1106.2,958.5 1106.0,958.1 1105.7,959.4" stroke-width="2.99" fill="none" />
<path d="M980.9,735.2 C989.7,741.0 1017.0,755.6 1033.5,770.0 C1050.0,784.3 1067.5,801.7 1079.8,821.5 C1092.1,841.3 1101.6,872.4 1107.2,888.8 C1112.8,905.3 1112.4,915.1 1113.5,920.4" stroke-width="2.08" fill="none" />
<path d="M979.5,1064.6 L1109.2,955.9" stroke-width="2.99" fill="none" />
<path d="M990.0,1057.6 L1104.0,962.9" stroke-width="2.34" fill="none" />
<path d="M825.2,817.3 L936.7,726.8" stroke-width="2.60" fill="none" />
<path d="M825.2,817.3 C837.2,823.0 880.7,783.1 936.7,726.8" stroke-width="2.60" fill="none" />
<path d="M863.1,829.9 L978.8,738.4" stroke-width="2.60" fill="none" />
<path d="M863.1,829.9 C875.2,835.7 920.4,795.3 978.8,738.4" stroke-width="2.60" fill="none" />
<path d="M903.1,855.2 L1015.6,763.7" stroke-width="2.60" fill="none" />
<path d="M903.1,855.2 C915.1,860.8 959.0,820.5 1015.6,763.7" stroke-width="2.60" fill="none" />
<path d="M940.9,890.9 L1051.4,797.3" stroke-width="2.60" fill="none" />
<path d="M940.9,890.9 C953.1,896.4 996.1,855.2 1051.4,797.3" stroke-width="2.60" fill="none" />
<path d="M970.4,933.0 L1080.9,836.2" stroke-width="2.60" fill="none" />
<path d="M970.4,933.0 C982.7,938.2 1025.6,895.8 1080.9,836.2" stroke-width="2.60" fill="none" />
<path d="M989.3,977.2 L1100.9,880.4" stroke-width="2.60" fill="none" />
<path d="M989.3,977.2 C1001.7,982.4 1045.0,940.0 1100.9,880.4" stroke-width="2.60" fill="none" />
<path d="M996.9,997.8 L1107.6,920.8" stroke-width="2.60" fill="none" />
<path d="M996.9,997.8 C1008.2,1004.6 1051.5,970.1 1107.6,920.8" stroke-width="2.60" fill="none" />
<path d="M1000.5,1026.0 L1107.5,941.8" stroke-width="2.60" fill="none" />
<path d="M1000.5,1026.0 C1010.4,1029.7 1052.6,993.1 1107.5,941.8" stroke-width="2.60" fill="none" />
<path d="M469.5,950.3 C468.4,950.8 464.2,950.9 463.0,953.0 C461.8,955.1 461.8,959.2 462.5,963.0 C463.2,966.8 466.2,973.8 467.0,976.0" stroke-width="2.86" fill="none" />
<path d="M467.0,976.1 L481.7,1008.0 L491.5,1020.3 L494.0,1032.6 L491.5,1037.5 L506.3,1059.6 L518.6,1086.6 L516.1,1093.9 L555.4,1194.6" stroke-width="2.86" fill="none" />
<path d="M555.4,1194.6 C557.4,1198.7 562.3,1211.7 567.6,1219.1 C573.0,1226.5 580.7,1234.2 587.3,1238.7 C593.8,1243.2 603.6,1244.9 606.9,1246.1" stroke-width="2.86" fill="none" />
<path d="M695.3,970.0 C696.1,970.3 695.5,969.4 700.0,971.9 C704.5,974.4 716.8,979.8 722.3,985.2 C727.8,990.6 730.2,997.8 732.7,1004.5 C735.2,1011.2 736.4,1021.8 737.1,1025.3" stroke-width="2.86" fill="none" />
<path d="M737.1,1025.3 L732.7,1029.8 L743.1,1050.6 L747.5,1052.0 L760.9,1078.8 L757.9,1087.7 L783.1,1151.5 L792.0,1159.0 L802.4,1185.7 L798.0,1188.6 L809.9,1218.3 L817.3,1222.8" stroke-width="2.86" fill="none" />
<path d="M817.3,1222.8 C819.3,1228.2 827.0,1248.0 829.2,1255.4 C831.4,1262.8 832.3,1263.8 830.6,1267.3 C828.9,1270.8 820.8,1274.7 818.8,1276.2" stroke-width="2.86" fill="none" />
<path d="M702.6,962.6 C705.4,964.1 713.5,966.9 719.3,971.9 C725.0,976.9 732.6,984.3 737.1,992.7 C741.6,1001.1 744.5,1017.5 746.0,1022.4" stroke-width="2.60" fill="none" />
<path d="M746.0,1022.4 L741.6,1026.8 L752.0,1047.6 L759.4,1050.6 L769.8,1077.3 L765.3,1086.2 L790.6,1150.0 L799.5,1156.0 L808.4,1182.7 L803.9,1187.2 L817.3,1215.3 L824.7,1218.3 L835.1,1251.0" stroke-width="2.60" fill="none" />
<path d="M835.1,1251.0 C834.9,1254.0 835.6,1264.8 833.6,1268.8 C831.6,1272.8 824.9,1273.7 823.2,1274.7" stroke-width="2.60" fill="none" />
<path d="M818.8,1276.2 L599.5,1246.1" stroke-width="2.86" fill="none" />
<path d="M695.3,970.0 L469.5,950.3" stroke-width="2.86" fill="none" />
<path d="M478.0,941.7 L702.6,962.6" stroke-width="2.86" fill="none" />
<path d="M465.0,950.0 L478.0,941.7" stroke-width="2.60" fill="none" />
<path d="M521.0,1008.0 C524.7,1003.9 532.1,989.2 543.1,983.5 C554.1,977.7 571.7,972.8 587.3,973.6 C602.8,974.5 620.0,981.0 636.4,988.4 C652.7,995.7 671.2,1007.2 685.5,1017.8 C699.8,1028.5 710.0,1036.6 722.3,1052.2 C734.6,1067.7 750.3,1093.1 759.1,1111.1 C767.9,1129.1 773.4,1144.7 775.1,1160.2 C776.7,1175.7 774.9,1192.5 768.9,1204.4 C763.0,1216.2 751.7,1224.4 739.5,1231.4 C727.2,1238.3 708.4,1245.3 695.3,1246.1 C682.2,1246.9 674.8,1242.8 660.9,1236.3 C647.0,1229.7 627.4,1218.7 611.8,1206.8 C596.3,1195.0 579.9,1180.2 567.6,1165.1 C555.4,1150.0 546.0,1132.4 538.2,1116.0 C530.4,1099.6 524.3,1081.6 521.0,1066.9 C517.7,1052.2 518.6,1037.5 518.6,1027.6 C518.6,1017.8 520.6,1011.3 521.0,1008.0" stroke-width="3.38" fill="none" />
<path d="M528.4,1003.1 C527.6,1007.2 524.1,1017.0 523.5,1027.6 C522.8,1038.3 521.8,1052.2 524.7,1066.9 C527.6,1081.6 533.1,1100.5 540.6,1116.0 C548.2,1131.6 558.2,1146.3 570.1,1160.2 C582.0,1174.1 596.7,1187.6 611.8,1199.5 C627.0,1211.3 648.6,1224.0 660.9,1231.4 C673.2,1238.7 681.4,1241.6 685.5,1243.7" stroke-width="2.34" fill="none" />
<ellipse cx="492.0" cy="977.3" rx="8.5" ry="10.5" transform="rotate(-40.0 492.0 977.3)" stroke-width="2.86" fill="none"/>
<ellipse cx="703.9" cy="1001.9" rx="8.5" ry="10.5" transform="rotate(-40.0 703.9 1001.9)" stroke-width="2.86" fill="none"/>
<ellipse cx="591.0" cy="1224.0" rx="8.5" ry="10.5" transform="rotate(-40.0 591.0 1224.0)" stroke-width="2.86" fill="none"/>
<ellipse cx="798.4" cy="1241.2" rx="8.5" ry="10.5" transform="rotate(-40.0 798.4 1241.2)" stroke-width="2.86" fill="none"/>
<path d="M47.5,1098.2 L252.0,1460.0" stroke-width="2.99" fill="none" />
<path d="M252.0,1460.0 C253.7,1462.0 257.2,1469.0 262.0,1472.0 C266.8,1475.0 277.8,1477.0 281.0,1478.0" stroke-width="2.99" fill="none" />
<path d="M281.0,1478.0 L548.0,1555.0" stroke-width="2.99" fill="none" />
<path d="M548.0,1555.0 L556.0,1552.0 L560.4,1549.0 L584.6,1514.0 L415.0,1088.8" stroke-width="2.99" fill="none" />
<path d="M415.0,1088.8 C414.3,1086.8 413.1,1080.0 411.0,1077.0 C408.9,1074.0 404.1,1072.0 402.7,1071.0" stroke-width="2.99" fill="none" />
<path d="M402.7,1071.0 L81.9,1052.7 L48.4,1083.0 L46.3,1091.6 L48.4,1098.0" stroke-width="2.99" fill="none" />
<path d="M64.6,1058.0 C64.8,1057.5 63.8,1056.8 66.0,1054.9 C68.2,1053.1 74.0,1048.2 78.0,1046.9 C82.0,1045.7 88.0,1047.3 90.0,1047.4" stroke-width="2.60" fill="none" />
<path d="M90.0,1047.4 L380.0,1060.6 L409.6,1067.3" stroke-width="2.60" fill="none" />
<path d="M409.6,1067.3 C411.2,1068.3 417.1,1070.7 419.3,1073.3 C421.5,1076.0 422.4,1081.7 423.0,1083.4" stroke-width="2.60" fill="none" />
<path d="M423.0,1083.4 L590.0,1518.0" stroke-width="2.60" fill="none" />
<path d="M64.6,1058.0 C64.8,1055.6 63.8,1047.2 66.0,1043.5 C68.2,1039.8 74.0,1036.8 78.0,1035.5 C82.0,1034.2 88.0,1035.9 90.0,1036.0" stroke-width="3.64" fill="none" />
<path d="M90.0,1036.0 L380.0,1051.0 L423.0,1059.0" stroke-width="3.64" fill="none" />
<path d="M423.0,1059.0 C425.1,1060.5 432.3,1064.3 435.5,1067.9 C438.7,1071.5 440.9,1078.7 442.0,1080.8" stroke-width="3.64" fill="none" />
<path d="M442.0,1080.8 L598.0,1516.0" stroke-width="3.64" fill="none" />
<path d="M64.6,1058.0 C64.8,1053.7 63.8,1037.7 66.0,1032.0 C68.2,1026.3 74.0,1025.2 78.0,1024.0 C82.0,1022.8 88.0,1024.4 90.0,1024.5" stroke-width="3.64" fill="none" />
<path d="M90.0,1024.5 L380.0,1037.7 L428.5,1045.8" stroke-width="3.64" fill="none" />
<path d="M428.5,1045.8 C430.8,1047.5 438.7,1051.9 442.2,1055.9 C445.8,1059.9 448.7,1067.7 450.0,1070.0" stroke-width="3.64" fill="none" />
<path d="M450.0,1070.0 L612.0,1512.0" stroke-width="3.64" fill="none" />
<path d="M64.6,1058.0 C64.6,1053.6 63.7,1038.7 64.6,1031.7 C65.5,1024.7 66.3,1019.5 70.0,1016.0 C73.7,1012.5 84.2,1011.7 87.0,1010.8" stroke-width="2.60" fill="none" />
<path d="M87.0,1010.8 L380.0,1021.5 L433.8,1029.6" stroke-width="2.60" fill="none" />
<path d="M433.8,1029.6 C436.5,1031.3 445.5,1034.6 450.0,1040.0 C454.5,1045.4 459.0,1058.2 460.8,1061.9" stroke-width="2.60" fill="none" />
<path d="M460.7,1061.9 L498.4,1153.4 L490.4,1165.5 L511.9,1189.8 L533.4,1243.6 L526.7,1258.4 L573.8,1358.0 L589.9,1403.7 L584.6,1417.2 L600.7,1430.6 L622.2,1492.5 L619.5,1506.0 L606.1,1516.8 L584.6,1524.8" stroke-width="2.60" fill="none" />
<path d="M501.1,1193.8 L511.9,1189.8 L506.5,1200.5" stroke-width="2.60" fill="none" />
<path d="M592.6,1433.3 L600.7,1430.6 L595.3,1441.4" stroke-width="2.60" fill="none" />
<path d="M584.6,1524.8 L579.2,1523.5 L568.4,1535.6" stroke-width="2.60" fill="none" />
<path d="M185.7,1237.9 C186.2,1234.3 183.9,1223.1 188.6,1216.6 C193.2,1210.2 204.0,1202.0 213.6,1199.3 C223.3,1196.6 232.9,1197.7 246.4,1200.3 C259.9,1202.8 278.6,1207.5 294.7,1214.7 C310.7,1221.9 328.4,1232.7 342.9,1243.6 C357.3,1254.6 369.2,1267.1 381.4,1280.3 C393.7,1293.5 406.8,1308.9 416.2,1322.7 C425.5,1336.5 432.4,1350.0 437.4,1363.2 C442.4,1376.4 445.7,1392.8 446.1,1401.8 C446.4,1410.8 440.4,1414.7 439.3,1417.2" stroke-width="3.64" fill="none" />
<path d="M439.3,1417.2 C431.3,1418.8 407.2,1427.0 391.1,1426.9 C375.0,1426.7 357.3,1422.1 342.9,1416.3 C328.4,1410.5 310.7,1396.2 304.3,1392.2" stroke-width="3.25" fill="none" />
<path d="M186.6,1228.2 C187.9,1235.6 189.2,1258.1 194.4,1272.6 C199.5,1287.0 206.9,1300.9 217.5,1315.0 C228.1,1329.2 251.3,1350.4 258.0,1357.4" stroke-width="3.12" fill="none" />
<path d="M194.4,1202.2 C191.8,1203.9 182.5,1205.2 178.9,1212.8 C175.3,1220.3 172.3,1233.7 172.8,1247.5 C173.2,1261.3 176.3,1281.3 181.8,1295.7 C187.4,1310.2 196.1,1321.4 205.9,1334.3 C215.7,1347.2 227.5,1361.3 240.6,1372.9 C253.8,1384.4 268.0,1394.1 285.0,1403.7 C302.0,1413.4 325.2,1424.8 342.9,1430.7 C360.5,1436.7 376.9,1439.4 391.1,1439.4 C405.2,1439.4 419.1,1436.0 427.7,1430.7 C436.4,1425.4 440.6,1411.4 443.2,1407.6" stroke-width="2.60" fill="none" />
<path d="M213.6,1198.3 C207.9,1200.4 187.0,1202.7 178.9,1210.9 C170.9,1219.1 166.1,1233.4 165.4,1247.5 C164.8,1261.6 169.9,1281.3 175.1,1295.7 C180.2,1310.2 186.6,1321.4 196.3,1334.3 C205.9,1347.2 218.1,1359.7 232.9,1372.9 C247.7,1386.0 266.7,1402.0 285.0,1413.4 C303.3,1424.8 325.2,1435.2 342.9,1441.3 C360.5,1447.4 376.6,1450.2 391.1,1450.0 C405.6,1449.9 420.5,1447.4 429.7,1440.4 C438.8,1433.3 443.3,1413.1 446.1,1407.6" stroke-width="2.60" fill="none" />
<path d="M189.5,1217.6 L263.8,1360.3" stroke-width="4.16" fill="none" />
<path d="M296.6,1385.4 L435.4,1416.8" stroke-width="4.16" fill="none" />
<path d="M290.8,1381.5 C293.0,1380.8 299.5,1377.0 304.3,1377.1 C309.1,1377.3 315.4,1380.0 319.7,1382.5 C324.1,1385.0 328.6,1390.5 330.3,1392.2" stroke-width="2.86" fill="none" />
<ellipse cx="91.9" cy="1128.6" rx="33.0" ry="24.0" transform="rotate(50.0 91.9 1128.6)" stroke-width="3.38" fill="none"/>
<ellipse cx="342.7" cy="1155.9" rx="39.0" ry="29.0" transform="rotate(45.0 342.7 1155.9)" stroke-width="3.38" fill="none"/>
<ellipse cx="272.4" cy="1455.3" rx="29.0" ry="20.0" transform="rotate(42.0 272.4 1455.3)" stroke-width="3.38" fill="none"/>
<ellipse cx="502.2" cy="1519.8" rx="35.0" ry="21.0" transform="rotate(38.0 502.2 1519.8)" stroke-width="3.38" fill="none"/>
<ellipse cx="134.9" cy="1196.9" rx="24.0" ry="15.0" transform="rotate(40.0 134.9 1196.9)" stroke-width="3.64" fill="none"/>
<ellipse cx="137.7" cy="1195.1" rx="17.3" ry="9.0" transform="rotate(40.0 137.7 1195.1)" stroke-width="2.60" fill="none"/>
<ellipse cx="140.1" cy="1193.6" rx="10.8" ry="5.7" transform="rotate(40.0 140.1 1193.6)" stroke-width="2.86" fill="none"/>
<ellipse cx="367.4" cy="1231.1" rx="28.0" ry="17.0" transform="rotate(40.0 367.4 1231.1)" stroke-width="3.64" fill="none"/>
<ellipse cx="370.7" cy="1229.1" rx="20.2" ry="10.2" transform="rotate(40.0 370.7 1229.1)" stroke-width="2.60" fill="none"/>
<ellipse cx="373.5" cy="1227.4" rx="12.6" ry="6.5" transform="rotate(40.0 373.5 1227.4)" stroke-width="2.86" fill="none"/>
<ellipse cx="249.6" cy="1404.7" rx="22.0" ry="14.0" transform="rotate(40.0 249.6 1404.7)" stroke-width="3.64" fill="none"/>
<ellipse cx="252.2" cy="1403.1" rx="15.8" ry="8.4" transform="rotate(40.0 252.2 1403.1)" stroke-width="2.60" fill="none"/>
<ellipse cx="254.4" cy="1401.7" rx="9.9" ry="5.3" transform="rotate(40.0 254.4 1401.7)" stroke-width="2.86" fill="none"/>
<ellipse cx="469.9" cy="1461.7" rx="26.0" ry="16.0" transform="rotate(40.0 469.9 1461.7)" stroke-width="3.64" fill="none"/>
<ellipse cx="473.0" cy="1459.8" rx="18.7" ry="9.6" transform="rotate(40.0 473.0 1459.8)" stroke-width="2.60" fill="none"/>
<ellipse cx="475.6" cy="1458.2" rx="11.7" ry="6.1" transform="rotate(40.0 475.6 1458.2)" stroke-width="2.86" fill="none"/>
<path d="M90.3,1105.8 C93.0,1107.4 102.4,1111.4 106.8,1115.4 C111.2,1119.4 115.0,1127.4 116.7,1129.8" stroke-width="3.12" fill="none" />
<path d="M340.7,1128.4 C344.0,1130.3 355.0,1135.1 360.2,1140.0 C365.4,1144.8 370.0,1154.5 371.9,1157.4" stroke-width="3.12" fill="none" />
<path d="M270.9,1436.3 C273.4,1437.6 281.6,1440.9 285.4,1444.3 C289.3,1447.6 292.7,1454.3 294.1,1456.3" stroke-width="3.12" fill="none" />
<path d="M500.5,1499.9 C503.4,1501.3 513.3,1504.8 518.0,1508.3 C522.6,1511.8 526.7,1518.8 528.5,1520.9" stroke-width="3.12" fill="none" />
<text x="0" y="0" transform="translate(175 1168) rotate(8) skewX(22) scale(0.74 1)" font-size="38" font-weight="bold" fill="#000" stroke="#000" stroke-width="1.4">FRONT</text>
<path d="M165.2,1173.8 L147.9,1137.0" stroke-width="4.42" fill="none" />
<path d="M147.9,1137.0 L136.0,1119.7 L138.1,1130.6 L142.4,1139.2 L151.1,1134.9 L147.9,1137.0" stroke-width="3.12" fill="none" />
<path d="M293.8,1190.0 L276.5,1152.2" stroke-width="4.42" fill="none" />
<path d="M276.5,1152.2 L266.8,1133.8 L267.9,1145.7 L272.2,1151.1 L280.8,1148.9 L276.5,1152.2" stroke-width="3.12" fill="none" />
<path d="M21.1,1319.9 C18.7,1319.0 10.0,1318.3 6.7,1314.4 C3.3,1310.5 1.1,1302.2 1.1,1296.6 C1.1,1291.1 3.9,1284.2 6.7,1281.1 C9.4,1277.9 13.7,1277.4 17.8,1277.7 C21.8,1278.1 27.6,1280.0 31.1,1283.3 C34.6,1286.6 37.9,1292.9 38.9,1297.7 C39.8,1302.6 38.7,1308.7 36.6,1312.2 C34.6,1315.7 29.2,1317.5 26.7,1318.8 C24.1,1320.1 22.0,1319.8 21.1,1319.9" stroke-width="2.99" fill="none" />
<path d="M4.4,1287.7 C5.9,1286.6 10.0,1282.2 13.3,1281.1 C16.7,1280.0 20.9,1279.8 24.4,1281.1 C27.9,1282.4 32.8,1287.6 34.4,1288.9" stroke-width="2.60" fill="none" />
<path d="M25.5,1280.0 L66.6,1250.0" stroke-width="2.99" fill="none" />
<path d="M38.9,1296.6 L81.1,1265.5" stroke-width="2.99" fill="none" />
<path d="M66.6,1250.0 C67.7,1249.6 71.1,1247.0 73.3,1247.8 C75.5,1248.5 78.5,1251.8 80.0,1254.4 C81.4,1257.0 82.0,1261.3 82.2,1263.3 C82.4,1265.3 81.2,1266.1 81.1,1266.6" stroke-width="2.99" fill="none" />
<path d="M8.9,1294.4 L20.0,1314.4" stroke-width="3.90" fill="none" />
<path d="M6.7,1305.5 L24.4,1303.3" stroke-width="3.90" fill="none" />
<path d="M298.7,1627.5 C296.3,1626.4 287.6,1624.6 284.3,1620.9 C280.9,1617.2 278.9,1610.5 278.7,1605.3 C278.5,1600.2 280.4,1593.1 283.2,1589.8 C285.9,1586.5 290.9,1585.2 295.4,1585.3 C299.8,1585.5 305.9,1587.2 309.8,1590.9 C313.7,1594.6 317.8,1602.2 318.7,1607.6 C319.6,1612.9 317.6,1619.6 315.4,1623.1 C313.2,1626.6 308.2,1627.9 305.4,1628.7 C302.6,1629.4 299.8,1627.7 298.7,1627.5" stroke-width="2.99" fill="none" />
<path d="M282.1,1596.5 C283.5,1595.3 287.6,1590.9 290.9,1589.8 C294.3,1588.7 298.3,1588.3 302.0,1589.8 C305.7,1591.3 311.3,1597.2 313.2,1598.7" stroke-width="2.60" fill="none" />
<path d="M304.3,1595.3 L342.0,1558.7" stroke-width="2.99" fill="none" />
<path d="M318.7,1610.9 L356.5,1574.2" stroke-width="2.99" fill="none" />
<path d="M342.0,1558.7 C343.1,1558.3 346.5,1555.7 348.7,1556.5 C350.9,1557.2 353.9,1560.9 355.3,1563.1 C356.8,1565.4 357.4,1568.0 357.6,1569.8 C357.8,1571.7 356.6,1573.5 356.5,1574.2" stroke-width="2.99" fill="none" />
<path d="M288.7,1605.3 L299.8,1625.3" stroke-width="3.90" fill="none" />
<path d="M286.5,1616.4 L304.3,1614.2" stroke-width="3.90" fill="none" />
<path d="M651.6,1618.4 L691.0,1573.7 L872.5,1584.2 L877.7,1590.0 L888.3,1590.0 L890.9,1585.2 L1109.2,1601.5" stroke-width="2.86" fill="none" />
<path d="M1109.2,1601.5 C1113.1,1603.5 1126.7,1606.8 1132.9,1613.1 C1139.0,1619.4 1143.8,1635.0 1146.0,1639.4" stroke-width="2.86" fill="none" />
<path d="M1146.0,1639.4 L1219.6,1855.1 L1215.4,1868.2 L1214.4,1891.9 L1219.6,1912.9 L1230.2,1918.2 L1238.1,1924.5 L1281.7,2091.8 L1277.5,2107.6 L1251.2,2144.4" stroke-width="2.86" fill="none" />
<path d="M1251.2,2144.4 C1250.8,2146.1 1251.2,2151.8 1248.6,2154.9 C1245.9,2158.0 1239.4,2161.5 1235.4,2162.8 C1231.5,2164.1 1226.7,2162.8 1224.9,2162.8" stroke-width="2.86" fill="none" />
<path d="M1224.9,2162.8 L883.0,2068.1" stroke-width="2.86" fill="none" />
<path d="M883.0,2068.1 C880.8,2067.2 873.4,2065.2 869.9,2062.9 C866.3,2060.5 863.3,2055.4 862.0,2053.9" stroke-width="2.86" fill="none" />
<path d="M862.0,2053.9 L643.7,1649.9" stroke-width="2.86" fill="none" />
<path d="M643.7,1649.9 C643.2,1647.3 639.7,1639.4 641.0,1634.2 C642.4,1628.9 649.8,1621.0 651.6,1618.4" stroke-width="2.86" fill="none" />
<path d="M646.3,1626.3 C647.6,1625.4 652.3,1622.3 654.2,1621.0 C656.1,1619.7 657.3,1618.8 657.9,1618.4" stroke-width="2.34" fill="none" />
<path d="M651.6,1644.7 L1046.1,1684.1" stroke-width="2.60" fill="none" />
<path d="M1046.1,1684.1 L1080.3,1710.4 L1230.2,2154.9" stroke-width="2.60" fill="none" />
<path d="M651.6,1644.7 L677.9,1689.4 L872.5,2062.9" stroke-width="2.34" fill="none" />
<path d="M680.5,1692.0 L1025.0,1734.1" stroke-width="2.60" fill="none" />
<path d="M1032.9,1743.6 L1180.2,2141.8" stroke-width="2.60" fill="none" />
<path d="M685.8,1699.9 L867.2,2055.0" stroke-width="2.60" fill="none" />
<path d="M1025.0,1734.1 L1046.1,1685.7" stroke-width="2.60" fill="none" />
<path d="M1032.9,1744.6 L1080.3,1710.4" stroke-width="2.60" fill="none" />
<path d="M1040.8,1745.7 L1185.5,2140.2" stroke-width="2.08" fill="none" />
<path d="M1059.2,1660.5 C1064.5,1662.7 1084.0,1668.2 1090.8,1673.6 C1097.5,1679.0 1102.1,1688.1 1099.7,1693.1 C1097.4,1698.1 1080.4,1701.8 1076.6,1703.6" stroke-width="2.60" fill="none" />
<path d="M877.7,2062.9 L1188.1,2144.4" stroke-width="2.08" fill="none" />
<path d="M787.3,1865.6 C789.2,1858.6 787.3,1835.4 798.8,1823.5 C810.4,1811.7 833.9,1798.1 856.7,1794.6 C879.5,1791.1 909.3,1794.2 935.6,1802.5 C961.9,1810.8 990.8,1825.3 1014.5,1844.6 C1038.2,1863.9 1063.6,1894.5 1077.6,1918.2 C1091.7,1941.9 1097.8,1967.3 1098.7,1986.6 C1099.5,2005.9 1092.5,2023.8 1082.9,2033.9 C1073.2,2044.0 1061.0,2047.1 1040.8,2047.1 C1020.6,2047.1 990.0,2044.9 961.9,2033.9 C933.9,2023.0 897.9,2000.6 872.5,1981.3 C847.1,1962.0 823.6,1937.5 809.4,1918.2 C795.2,1898.9 791.0,1874.4 787.3,1865.6" stroke-width="2.86" fill="none" />
<path d="M801.5,1844.6 C804.5,1839.3 809.8,1820.5 819.9,1813.0 C830.0,1805.6 842.7,1800.3 862.0,1799.9 C881.3,1799.4 911.1,1801.6 935.6,1810.4 C960.2,1819.1 986.5,1833.6 1009.2,1852.5 C1032.0,1871.3 1058.3,1901.1 1072.4,1923.5 C1086.4,1945.8 1092.5,1969.5 1093.4,1986.6 C1094.3,2003.7 1087.3,2018.1 1077.6,2026.0 C1068.0,2033.9 1054.8,2034.8 1035.5,2033.9 C1016.3,2033.1 988.2,2031.3 961.9,2020.8 C935.6,2010.3 901.9,1988.8 877.7,1970.8 C853.6,1952.8 830.0,1934.0 817.3,1912.9 C804.5,1891.9 804.1,1856.0 801.5,1844.6" stroke-width="3.38" fill="none" />
<path d="M803.1,1839.3 L814.6,1844.6 L883.0,1965.5" stroke-width="2.60" fill="none" />
<path d="M840.9,1912.9 L856.7,1907.7 L867.2,1928.7 L851.4,1936.6 L840.9,1912.9" stroke-width="2.60" fill="none" />
<path d="M830.4,1918.2 L843.6,1915.6" stroke-width="2.60" fill="none" />
<path d="M1590.0,261.3 L1627.7,229.7" stroke-width="2.99" fill="none" />
<path d="M1590.0,308.6 L1651.4,257.7" stroke-width="2.99" fill="none" />
<path d="M1627.7,229.7 C1629.2,229.6 1633.4,228.2 1636.5,229.3 C1639.5,230.5 1643.6,233.4 1646.1,236.7 C1648.6,240.0 1650.5,245.5 1651.4,249.0 C1652.2,252.5 1651.4,256.3 1651.4,257.7" stroke-width="2.99" fill="none" />
<path d="M1636.5,229.7 L1688.2,189.4" stroke-width="2.86" fill="none" />
<path d="M1640.8,233.2 L1695.2,192.9" stroke-width="2.34" fill="none" />
<path d="M1646.1,238.5 L1702.2,198.1" stroke-width="2.86" fill="none" />
<path d="M1650.5,245.5 L1711.0,199.9" stroke-width="2.34" fill="none" />
<path d="M1651.4,252.5 L1712.7,205.1" stroke-width="2.86" fill="none" />
<path d="M1841.7,176.3 C1844.3,176.3 1854.0,176.6 1857.4,176.3 C1860.8,176.0 1861.3,174.8 1862.1,174.4" stroke-width="3.25" fill="none" />
<path d="M1862.1,174.4 L1885.3,153.1 L1889.0,146.6 L1889.0,134.5 L1863.9,20.4" stroke-width="3.25" fill="none" />
<path d="M1863.9,20.4 C1863.0,18.9 1860.2,13.6 1858.4,11.1 C1856.5,8.7 1855.3,7.2 1852.8,5.6 C1850.3,3.9 1845.1,2.1 1843.5,1.4" stroke-width="3.25" fill="none" />
<path d="M1843.5,1.4 L1797.1,1.9 L1769.3,21.3 L1764.6,27.8 L1763.7,39.0" stroke-width="3.25" fill="none" />
<path d="M1763.7,39.0 L1795.3,17.6 L1778.6,17.6" stroke-width="3.25" fill="none" />
<path d="M1760.0,52.0 L1802.7,18.6 L1823.1,18.6" stroke-width="3.25" fill="none" />
<path d="M1823.1,18.6 C1825.0,19.5 1831.1,21.7 1834.2,24.1 C1837.3,26.6 1840.0,30.5 1841.7,33.4 C1843.4,36.3 1844.0,40.4 1844.4,41.8" stroke-width="3.25" fill="none" />
<path d="M1844.4,41.8 L1851.9,76.1 L1840.7,76.1" stroke-width="3.25" fill="none" />
<path d="M1803.6,19.5 L1803.6,27.8 L1825.0,27.8" stroke-width="2.99" fill="none" />
<path d="M1825.0,27.8 C1826.3,29.1 1831.3,32.2 1833.3,35.3 C1835.3,38.4 1836.4,44.5 1837.0,46.4" stroke-width="2.99" fill="none" />
<path d="M1837.0,46.4 L1841.7,75.2" stroke-width="2.99" fill="none" />
<path d="M1773.0,61.2 L1803.6,27.8" stroke-width="2.99" fill="none" />
<path d="M1785.1,43.6 L1802.7,43.6" stroke-width="2.99" fill="none" />
<path d="M1802.7,43.6 C1804.2,45.0 1809.8,49.2 1812.0,52.0 C1814.1,54.7 1815.1,58.9 1815.7,60.3" stroke-width="2.99" fill="none" />
<path d="M1815.7,60.3 L1821.2,92.8" stroke-width="2.99" fill="none" />
<path d="M1786.9,48.3 C1789.4,48.3 1797.9,46.7 1801.8,48.3 C1805.6,49.8 1808.6,53.8 1810.1,57.5 C1811.7,61.2 1811.3,67.3 1811.0,70.5 C1810.7,73.8 1808.7,75.9 1808.3,77.0" stroke-width="2.99" fill="none" />
<path d="M1760.0,54.7 C1762.0,55.8 1768.2,57.7 1772.1,61.2 C1775.9,64.8 1781.0,71.4 1783.2,76.1 C1785.4,80.7 1784.7,86.9 1785.1,89.1" stroke-width="2.99" fill="none" />
<path d="M1840.7,76.1 L1806.4,102.1 L1804.5,111.3 L1810.1,116.9 L1811.0,129.9 L1808.3,136.4 L1815.7,148.5 L1826.8,148.5" stroke-width="2.99" fill="none" />
<path d="M1851.9,76.1 L1821.2,102.1" stroke-width="2.99" fill="none" />
<path d="M1810.1,104.9 L1820.3,104.9 L1821.2,116.0 L1813.8,117.8 L1810.1,104.9" stroke-width="2.99" fill="none" />
<path d="M1852.8,86.3 L1859.3,111.3 L1830.5,135.5" stroke-width="2.99" fill="none" />
<path d="M1846.3,95.6 L1850.9,113.2" stroke-width="2.60" fill="none" />
<path d="M1825.0,111.3 L1828.7,124.3 L1815.7,131.8" stroke-width="2.60" fill="none" />
<path d="M1860.2,120.6 L1869.5,161.5 L1841.7,176.3" stroke-width="2.99" fill="none" />
<path d="M1851.9,129.9 L1859.3,162.4 L1841.7,176.3" stroke-width="2.60" fill="none" />
<path d="M1830.5,135.5 L1860.2,120.6" stroke-width="2.99" fill="none" />
<path d="M1824.0,152.2 L1851.9,129.9" stroke-width="2.99" fill="none" />
<path d="M1824.0,152.2 C1825.4,154.3 1830.7,161.1 1832.4,165.2 C1834.1,169.2 1834.5,173.1 1834.2,176.3 C1833.9,179.6 1832.1,183.1 1830.5,184.7 C1829.0,186.2 1825.9,185.4 1825.0,185.6" stroke-width="2.99" fill="none" />
<path d="M1752.1,124.0 L1808.6,77.6" stroke-width="3.12" fill="none" />
<path d="M1756.7,149.5 L1801.2,112.9" stroke-width="3.12" fill="none" />
<path d="M1762.3,175.0 L1807.7,137.0" stroke-width="3.12" fill="none" />
<path d="M1767.8,199.1 L1824.4,152.8" stroke-width="3.12" fill="none" />
<path d="M1774.3,221.4 L1841.1,179.7" stroke-width="3.12" fill="none" />
<path d="M1791.9,212.1 L1824.4,185.2" stroke-width="3.12" fill="none" />
<path d="M1795.7,214.0 L1825.3,188.9" stroke-width="2.34" fill="none" />
<path d="M1740.0,141.6 L1751.1,132.4" stroke-width="2.99" fill="none" />
<path d="M1714.8,54.9 L1746.8,54.9" stroke-width="3.25" fill="none" />
<path d="M1714.8,54.9 C1709.3,59.0 1688.1,74.0 1681.7,79.5 C1675.3,85.0 1677.4,84.6 1676.4,88.0 C1675.4,91.4 1675.5,95.6 1675.9,99.7 C1676.2,103.8 1673.8,110.2 1678.5,112.5 C1683.2,114.8 1699.2,112.5 1704.1,113.6 C1709.1,114.7 1707.9,117.0 1708.4,118.9 C1708.9,120.9 1709.1,124.1 1707.3,125.3 C1705.6,126.6 1700.1,125.3 1697.7,126.4 C1695.3,127.5 1693.3,129.8 1692.9,131.7 C1692.6,133.7 1693.4,136.7 1695.6,138.1 C1697.8,139.6 1703.4,139.0 1706.3,140.3 C1709.1,141.5 1711.6,143.8 1712.7,145.6 C1713.7,147.4 1714.3,149.7 1712.7,150.9 C1711.1,152.2 1705.4,151.8 1703.1,153.1 C1700.8,154.3 1698.6,156.4 1698.8,158.4 C1699.0,160.4 1702.4,163.6 1704.1,164.8 C1705.9,166.0 1708.4,165.3 1709.5,165.9 C1710.5,166.4 1711.6,166.0 1710.5,168.0 C1709.5,170.0 1706.3,174.2 1703.1,177.6 C1699.9,181.0 1695.1,186.0 1691.3,188.3 C1687.6,190.6 1684.2,189.7 1680.7,191.5 C1677.1,193.2 1671.8,197.7 1670.0,198.9" stroke-width="3.38" fill="none" />
<path d="M1699.9,91.2 L1702.0,77.3 L1712.7,66.7 L1725.5,57.6 L1738.3,57.6 L1721.2,70.9 L1715.9,80.5 L1715.9,91.2 L1699.9,91.2" stroke-width="3.38" fill="none" />
<path d="M1742.5,57.1 C1745.0,56.9 1752.5,55.1 1757.5,56.0 C1762.4,56.9 1768.5,59.6 1772.4,62.4 C1776.3,65.2 1779.0,69.7 1780.9,73.1 C1782.9,76.4 1783.4,79.8 1784.1,82.7 C1784.8,85.5 1785.0,88.9 1785.2,90.1" stroke-width="2.99" fill="none" />
<path d="M1748.9,53.9 L1766.0,40.0" stroke-width="2.99" fill="none" />
<path d="M1758.5,54.9 L1776.7,40.0" stroke-width="2.99" fill="none" />
<path d="M1773.5,62.4 L1803.3,40.0" stroke-width="2.60" fill="none" />
<path d="M1785.2,90.1 L1746.8,113.6" stroke-width="2.99" fill="none" />
<ellipse cx="1772.4" cy="127.5" rx="3.5" ry="4.5" transform="rotate(30.0 1772.4 127.5)" stroke-width="2.60" fill="#000"/>
<ellipse cx="1784.1" cy="179.7" rx="3.5" ry="4.5" transform="rotate(30.0 1784.1 179.7)" stroke-width="2.60" fill="#000"/>
<ellipse cx="1790.5" cy="203.2" rx="3.5" ry="4.5" transform="rotate(30.0 1790.5 203.2)" stroke-width="2.60" fill="#000"/>
<ellipse cx="1778.8" cy="152.0" rx="4.0" ry="5.5" transform="rotate(20.0 1778.8 152.0)" stroke-width="2.99" fill="none"/>
<path d="M1748.9,130.7 C1750.0,132.4 1753.7,136.9 1755.3,141.3 C1756.9,145.8 1757.5,152.9 1758.5,157.3 C1759.6,161.8 1760.5,162.7 1761.7,168.0 C1763.0,173.3 1764.9,184.0 1766.0,189.3 C1767.1,194.7 1767.1,195.0 1768.1,200.0 C1769.2,205.0 1771.3,215.3 1772.4,219.2 C1773.5,223.1 1774.2,222.8 1774.5,223.5" stroke-width="2.99" fill="none" />
<path d="M1751.1,129.6 C1752.1,131.4 1755.9,135.8 1757.5,140.3 C1759.1,144.7 1759.6,151.6 1760.7,156.3 C1761.7,160.9 1763.3,166.0 1763.9,168.0" stroke-width="2.08" fill="none" />
<path d="M1721.2,116.8 C1721.6,116.3 1719.1,114.1 1723.3,113.6 C1727.6,113.1 1743.1,112.7 1746.8,113.6 C1750.5,114.5 1747.0,117.0 1745.7,118.9 C1744.5,120.9 1739.7,123.2 1739.3,125.3 C1739.0,127.5 1743.1,129.4 1743.6,131.7 C1744.1,134.0 1744.8,137.8 1742.5,139.2 C1740.2,140.6 1731.9,140.1 1729.7,140.3" stroke-width="2.99" fill="none" />
<path d="M1729.7,150.9 C1731.5,150.9 1737.4,149.9 1740.4,150.9 C1743.4,152.0 1746.8,155.2 1747.9,157.3 C1748.9,159.5 1748.9,162.3 1746.8,163.7 C1744.7,165.2 1737.9,164.4 1735.1,165.9 C1732.2,167.3 1730.6,171.2 1729.7,172.3" stroke-width="2.99" fill="none" />
<path d="M1729.7,181.9 C1731.3,181.3 1736.1,178.8 1739.3,178.7 C1742.5,178.5 1746.8,179.2 1748.9,180.8 C1751.1,182.4 1752.1,186.5 1752.1,188.3 C1752.1,190.0 1751.1,190.6 1748.9,191.5 C1746.8,192.4 1744.1,193.6 1739.3,193.6 C1734.5,193.6 1723.3,191.8 1720.1,191.5" stroke-width="2.99" fill="none" />
<path d="M1705.2,228.8 C1705.6,231.1 1705.2,238.6 1707.3,242.7 C1709.5,246.8 1713.2,251.0 1718.0,253.3 C1722.8,255.6 1733.1,256.0 1736.1,256.5" stroke-width="3.38" fill="none" />
<path d="M1736.1,256.5 L1738.3,252.3 L1753.2,252.3 L1755.3,256.5" stroke-width="3.25" fill="none" />
<path d="M1755.3,256.5 C1758.9,256.4 1767.8,260.4 1776.7,255.5 C1785.6,250.5 1803.0,234.1 1808.7,226.7 C1814.4,219.2 1810.8,214.4 1810.8,210.7 C1810.8,206.9 1809.0,205.3 1808.7,204.3" stroke-width="3.38" fill="none" />
<path d="M1705.2,223.5 C1707.3,222.2 1713.9,216.9 1718.0,216.0 C1722.1,215.1 1727.2,216.7 1729.7,218.1 C1732.2,219.6 1733.3,222.8 1732.9,224.5 C1732.6,226.3 1732.2,228.1 1727.6,228.8 C1723.0,229.5 1708.9,228.8 1705.2,228.8" stroke-width="3.25" fill="none" />
<path d="M1746.8,242.7 C1746.4,243.7 1744.0,247.5 1744.7,249.1 C1745.4,250.7 1747.5,251.9 1751.1,252.3 C1754.6,252.6 1761.9,251.7 1766.0,251.2 C1770.1,250.7 1772.8,250.8 1775.6,249.1 C1778.4,247.3 1781.8,242.0 1783.1,240.5" stroke-width="2.99" fill="none" />
<path d="M1746.8,242.7 C1748.6,242.1 1755.3,241.4 1757.5,239.5 C1759.6,237.5 1760.3,234.1 1759.6,230.9 C1758.9,227.7 1756.6,222.6 1753.2,220.3 C1749.8,218.0 1745.0,220.8 1739.3,217.1 C1733.6,213.3 1722.4,201.1 1719.1,197.9" stroke-width="2.99" fill="none" />
<path d="M1708.4,204.3 L1725.5,206.4" stroke-width="2.99" fill="none" />
<path d="M1725.5,159.5 C1726.7,159.6 1731.7,160.4 1732.9,160.5" stroke-width="2.60" fill="none" />
<path d="M1727.6,136.0 L1714.8,175.5 L1707.3,189.3" stroke-width="2.99" fill="none" />
<path d="M1732.9,159.5 L1716.9,177.6" stroke-width="2.60" fill="none" />
<path d="M1754.3,161.6 L1712.7,195.7" stroke-width="2.86" fill="none" />
<path d="M1720.1,188.3 L1738.3,188.3" stroke-width="2.60" fill="none" />
<path d="M1710.5,211.7 L1721.2,196.8" stroke-width="2.60" fill="none" />
<path d="M1670.0,204.3 L1702.0,187.2" stroke-width="2.34" fill="none" />
</g>
<text x="1053" y="2290.7" font-size="86.5" fill="#3c3c3c" stroke="#fff" stroke-width="1.6" font-family="Liberation Sans">crowleymarine.com</text><text transform="translate(1781 2380.7) scale(0.763 1)" font-size="49" font-weight="bold" fill="#000" font-family="Liberation Sans">27934</text>
</svg></body></html>
